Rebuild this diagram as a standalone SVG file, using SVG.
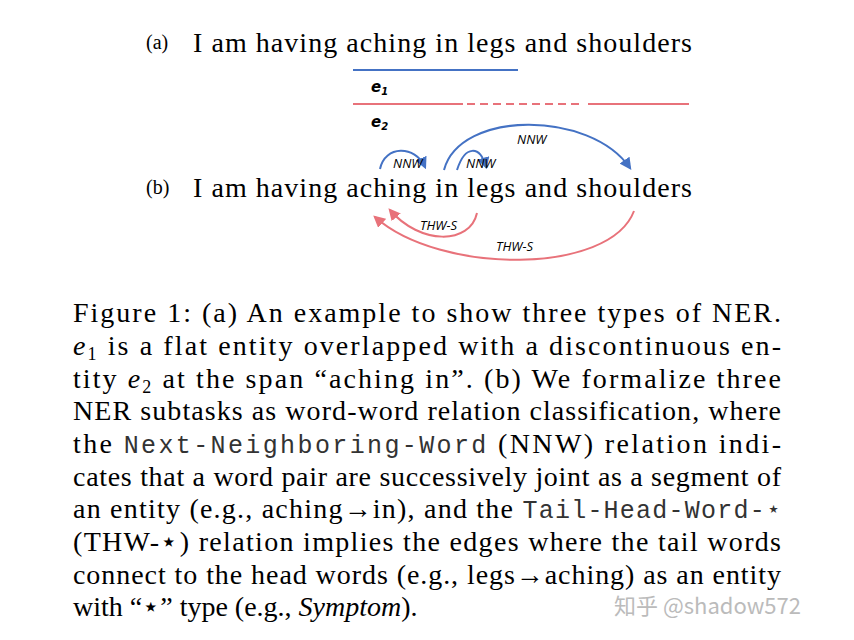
<svg xmlns="http://www.w3.org/2000/svg" width="854" height="640" viewBox="0 0 854 640">
<style>
.s{font-family:"Liberation Serif",serif;font-size:28px;fill:#000}
.sent{font-family:"Liberation Serif",serif;font-size:28px}
.lab{font-family:"Liberation Serif",serif;font-size:20px}
.e{font-family:"DejaVu Sans","Liberation Sans",sans-serif;font-size:15px;font-style:italic;font-weight:bold}
.t{font-family:"Open Sans","Liberation Sans",sans-serif;font-size:13px;font-style:italic}
.m{font-family:"Liberation Mono",monospace;font-size:25px;fill:#333}
.b{fill:none;stroke:#4472C4;stroke-width:2}
.r{fill:none;stroke:#E8727A;stroke-width:2}
</style>
<defs>
<marker id="ab" viewBox="0 0 10 10" refX="8" refY="5" markerWidth="6" markerHeight="6" orient="auto"><path d="M0,0L10,5L0,10z" fill="#4472C4"/></marker>
<marker id="ar" viewBox="0 0 10 10" refX="8" refY="5" markerWidth="6" markerHeight="6" orient="auto"><path d="M0,0L10,5L0,10z" fill="#E8727A"/></marker>
</defs>
<rect width="854" height="640" fill="#fff"/>
<g id="sentA">
<text class="lab" x="146" y="49">(a)</text>
<text class="sent" x="193" y="52" textLength="499" lengthAdjust="spacing">I am having aching in legs and shoulders</text>
</g>
<g id="entities">
<line x1="353" y1="70" x2="518" y2="70" class="b"/>
<text class="e" x="371" y="92">e<tspan font-size="10" dy="3">1</tspan></text>
<line x1="353" y1="104" x2="463" y2="104" class="r"/>
<line x1="467" y1="104" x2="584" y2="104" class="r" stroke-dasharray="8,5"/>
<line x1="588" y1="104" x2="689" y2="104" class="r"/>
<text class="e" x="371" y="127">e<tspan font-size="10" dy="3">2</tspan></text>
</g>
<g id="sentB">
<text class="lab" x="146" y="194">(b)</text>
<text class="sent" x="193" y="197" textLength="499" lengthAdjust="spacing">I am having aching in legs and shoulders</text>
</g>
<g id="connectors">
<path d="M380,169 C385,145 415,145 425,167" class="b" style="marker-end:url(#ab)"/>
<path d="M444,170 C460,110 590,110 630,168" class="b" style="marker-end:url(#ab)"/>
<path d="M457,170 C465,145 480,145 486,167" class="b" style="marker-end:url(#ab)"/>
<path d="M477,213 C470,245 420,245 390,210" class="r" style="marker-end:url(#ar)"/>
<path d="M634,211 C610,275 440,275 375,217" class="r" style="marker-end:url(#ar)"/>
<text class="t" x="393" y="168">NNW</text>
<text class="t" x="466" y="168">NNW</text>
<text class="t" x="517" y="144">NNW</text>
<text class="t" x="420" y="230">THW-S</text>
<text class="t" x="496" y="251">THW-S</text>
</g>
<g id="caption" class="s">
<text x="73" y="322" textLength="708" lengthAdjust="spacing">Figure 1: (a) An example to show three types of NER.</text>
<text x="73" y="355" textLength="708" lengthAdjust="spacing"><tspan font-style="italic">e</tspan><tspan font-size="18" dy="5">1</tspan><tspan dy="-5"> is a flat entity overlapped with a discontinuous en-</tspan></text>
<text x="73" y="388" textLength="708" lengthAdjust="spacing">tity <tspan font-style="italic">e</tspan><tspan font-size="18" dy="5">2</tspan><tspan dy="-5"> at the span “aching in”. (b) We formalize three</tspan></text>
<text x="73" y="420" textLength="708" lengthAdjust="spacing">NER subtasks as word-word relation classification, where</text>
<text x="73" y="453" textLength="708" lengthAdjust="spacing">the <tspan class="m">Next-Neighboring-Word</tspan> (NNW) relation indi-</text>
<text x="73" y="486" textLength="708" lengthAdjust="spacing">cates that a word pair are successively joint as a segment of</text>
<text x="73" y="518" textLength="708" lengthAdjust="spacing">an entity (e.g., aching→in), and the <tspan class="m">Tail-Head-Word-⋆</tspan></text>
<text x="73" y="551" textLength="708" lengthAdjust="spacing">(THW-⋆) relation implies the edges where the tail words</text>
<text x="73" y="584" textLength="708" lengthAdjust="spacing">connect to the head words (e.g., legs→aching) as an entity</text>
<text x="73" y="616">with “⋆” type (e.g., <tspan font-style="italic">Symptom</tspan>).</text>
</g>
<text x="614" y="614" font-family="'Noto Sans CJK SC',sans-serif" font-size="22" fill="#bbb">知乎 @shadow572</text>
</svg>
